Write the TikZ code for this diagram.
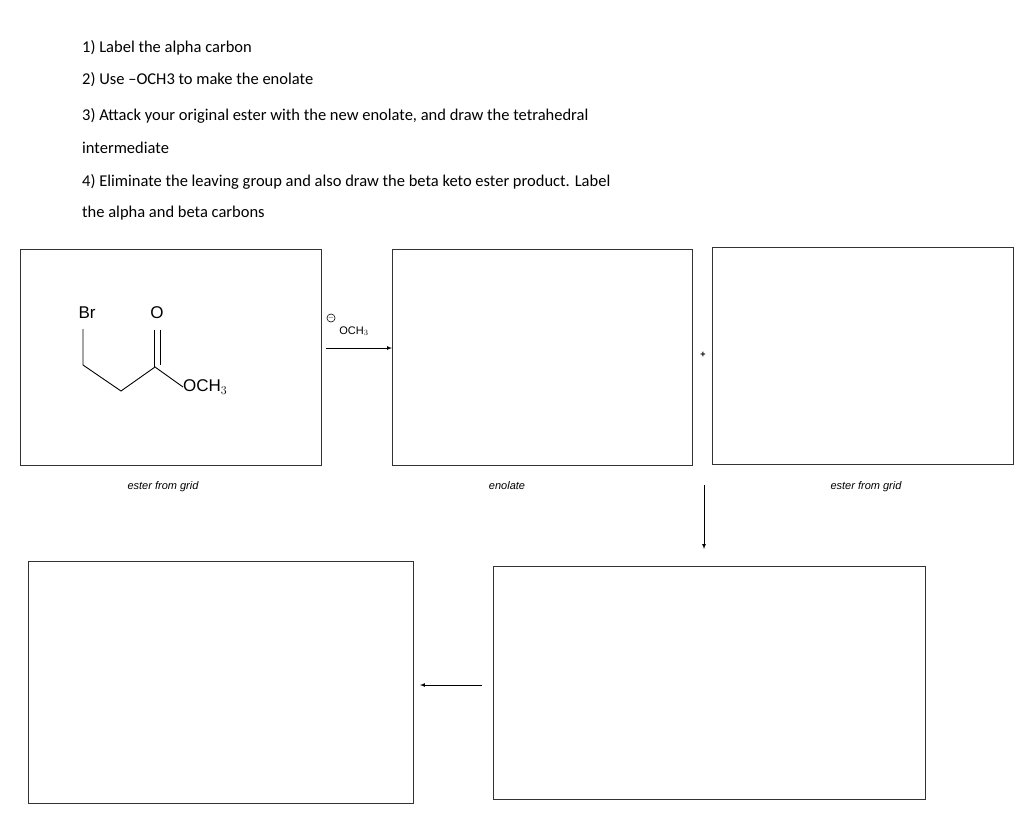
\documentclass[tikz,border=0pt]{standalone}
\usepackage{fontspec}
\setmainfont{Carlito}
\newfontfamily\arial{Liberation Sans}
\begin{document}
\begin{tikzpicture}[x=1pt,y=-1pt,
  box/.style={draw=black!80,line width=0.8pt},
  txt/.style={anchor=west,inner sep=0pt,font=\fontsize{16.5}{20}\selectfont},
  caption/.style={inner sep=0pt,font=\arial\itshape\fontsize{11}{13}\selectfont},
  atom/.style={inner sep=0pt,font=\arial\fontsize{17}{20}\selectfont},
  arr/.style={-latex,line width=0.7pt}]
\useasboundingbox (0,0) rectangle (1024,839);
\node[txt] (l1) at (82,48) {1) Label the alpha carbon};
\node[txt] (l2) at (82,80) {2) Use --OCH3 to make the enolate};
\node[txt] (l3) at (82,116) {3) Attack your original ester with the new enolate, and draw the tetrahedral};
\node[txt] (l4) at (82,148) {intermediate};
\node[txt] (l5) at (82,182) {4) Eliminate the leaving group and also draw the beta keto ester product. Label};
\node[txt] (l6) at (82,213) {the alpha and beta carbons};
\draw[box] (20,249) rectangle (321,465);
\draw[box] (392,249) rectangle (692,465);
\draw[box] (712,247) rectangle (1013,464);
\draw[box] (493,566) rectangle (925,799);
\draw[box] (28,561) rectangle (413,803);
\node[caption] (c1) at (163,487) {ester from grid};
\node[caption] (c2) at (507,486) {enolate};
\node[caption] (c3) at (866,487) {ester from grid};
\node[inner sep=0pt,font=\arial\bfseries\fontsize{9}{10}\selectfont] (plus) at (703,355) {+};
% molecule
\node[atom] (br) at (87,313) {Br};
\node[atom] (o) at (157,313) {O};
\node[atom,anchor=west] (och) at (183,387) {OCH$_3$};
\coordinate (a) at (83,365);
\coordinate (b) at (121,391);
\coordinate (c) at (155,367);
\draw[line width=0.9pt] (83,329) -- (a) -- (b) -- (c) -- (och.west);
\draw[line width=0.9pt] (154,367) -- (154,330) (160,365) -- (160,330);
% reagent
\node[circle,draw,inner sep=0pt,minimum size=7pt,line width=0.6pt,font=\fontsize{7}{7}\selectfont] (m) at (331,318) {$-$};
\node[inner sep=0pt,font=\arial\fontsize{11}{13}\selectfont] (r) at (354,331) {OCH$_3$};
\coordinate (s1) at (326,348);\coordinate (e1) at (392,348);
\draw[arr] (s1) -- (e1);
\coordinate (s2) at (704,485);\coordinate (e2) at (704,549);
\draw[arr] (s2) -- (e2);
\coordinate (s3) at (482,685);\coordinate (e3) at (420,685);
\draw[arr] (s3) -- (e3);
\end{tikzpicture}
\end{document}
